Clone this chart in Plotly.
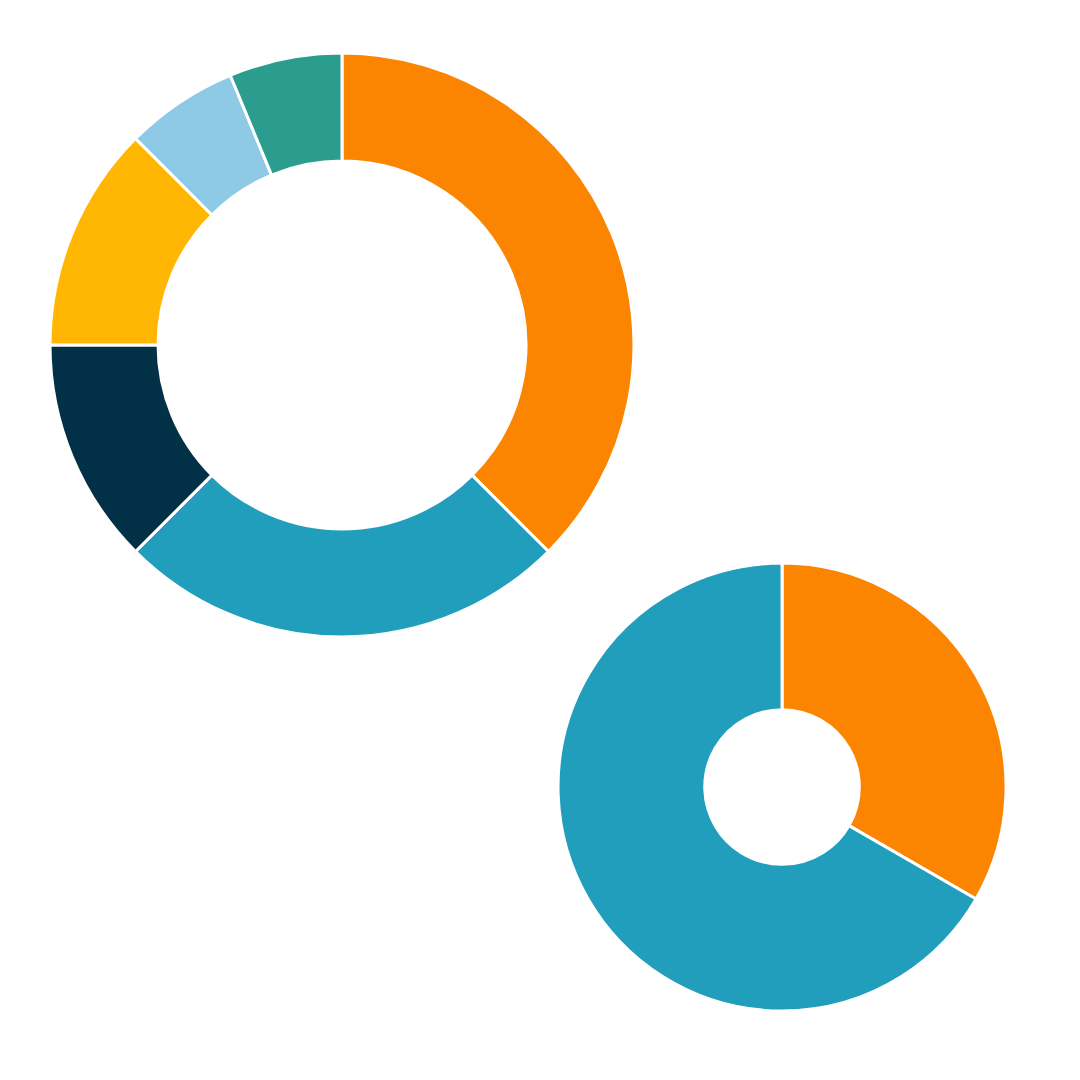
import plotly.graph_objects as go

# big donut, clockwise from 12 o'clock
big_labels = ["A", "B", "C", "D", "E", "F"]
big_values = [6, 4, 2, 2, 1, 1]
big_colors = ["#FB8500", "#219EBC", "#023047", "#FFB703", "#8ECAE6", "#2A9D8F"]

# small donut
small_labels = ["A", "B"]
small_values = [1, 2]
small_colors = ["#FB8500", "#219EBC"]

fig = go.Figure()

fig.add_trace(go.Pie(
    labels=big_labels, values=big_values,
    hole=0.63, sort=False, direction="clockwise", rotation=0,
    marker=dict(colors=big_colors, line=dict(color="white", width=3)),
    textinfo="none", hoverinfo="label+value+percent",
    domain=dict(x=[0.0389, 0.5796], y=[0.4176, 0.9583]),
))

fig.add_trace(go.Pie(
    labels=small_labels, values=small_values,
    hole=0.345, sort=False, direction="clockwise", rotation=0,
    marker=dict(colors=small_colors, line=dict(color="white", width=3)),
    textinfo="none", hoverinfo="label+value+percent",
    domain=dict(x=[0.5093, 0.9241], y=[0.0713, 0.4861]),
))

fig.update_layout(
    width=1080, height=1080,
    margin=dict(l=0, r=0, t=0, b=0),
    showlegend=False,
    paper_bgcolor="white",
    plot_bgcolor="white",
)

fig.write_html("out.html")
